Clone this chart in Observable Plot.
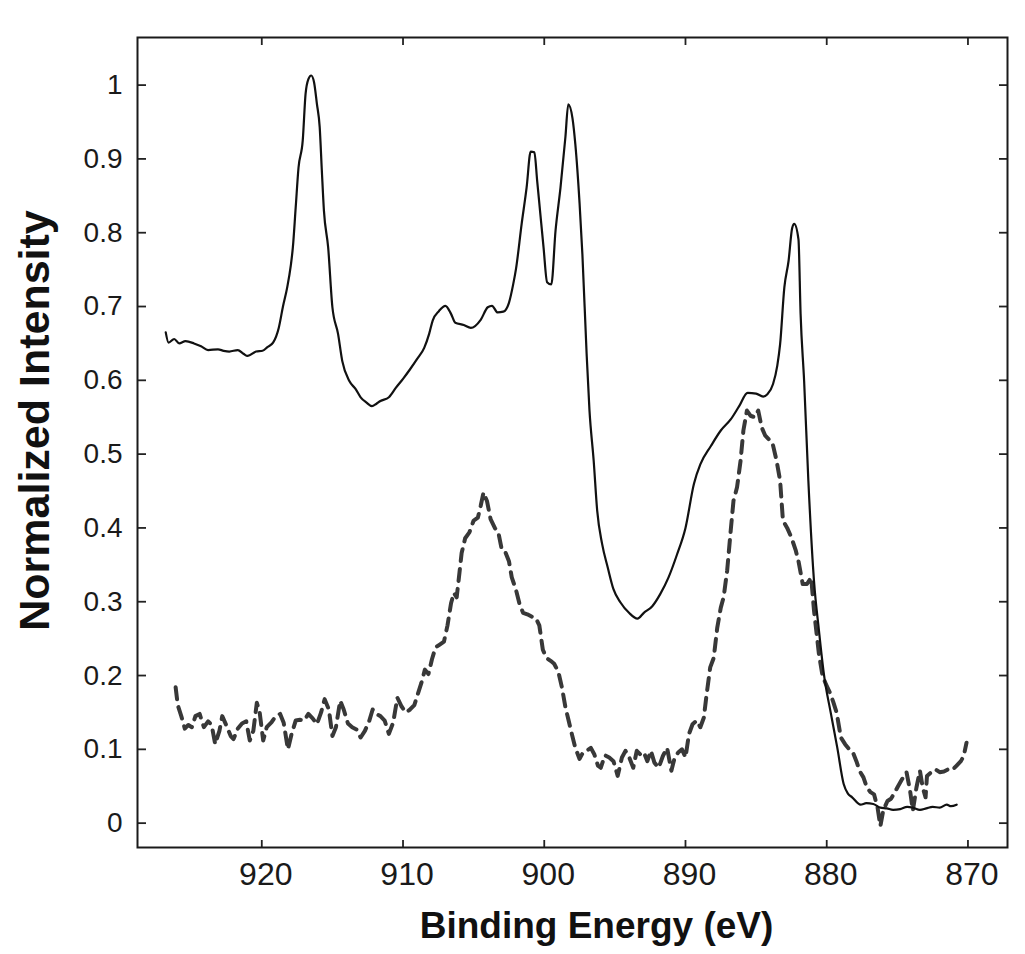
<!DOCTYPE html>
<html>
<head>
<meta charset="utf-8">
<script src="https://cdn.jsdelivr.net/npm/d3@7"></script>
<script src="https://cdn.jsdelivr.net/npm/@observablehq/plot@0.6"></script>
<style>
  html, body { margin: 0; padding: 0; background: #fff; }
  #chart { width: 1025px; height: 954px; }
</style>
</head>
<body>
<div id="chart"></div>
<script>
// Spectrum 1 (solid): binding energy (eV) and normalized intensity
const solidEnergy = [
  926.8, 926.6, 926.2, 925.85, 925.4, 924.8, 924.3, 923.8, 923.1, 922.7,
  922.3, 921.7, 921.3, 921.0, 920.4, 919.95, 919.6, 919.2, 918.8, 918.5,
  918.2, 917.95, 917.8, 917.6, 917.4, 917.1, 916.9, 916.7, 916.5, 916.3,
  916.1, 915.9, 915.75, 915.6, 915.3, 915.0, 914.6, 914.3, 913.8, 913.35,
  913.0, 912.6, 912.2, 911.9, 911.6, 911.0, 910.5, 910.0, 909.5, 909.0,
  908.5, 908.15, 907.9, 907.45, 907.0, 906.6, 906.3, 905.7, 905.2, 904.5,
  904.0, 903.7, 903.3, 902.9, 902.5, 902.2, 902.0, 901.6, 901.25, 900.96,
  900.7, 900.5, 900.3, 900.05, 899.8, 899.5, 899.2, 898.85, 898.5, 898.3,
  898.0, 897.8, 897.5, 897.3, 897.0, 896.8, 896.5, 896.25, 895.9, 895.5,
  895.1, 894.6, 894.0, 893.4, 892.95, 892.35, 891.8, 891.2, 890.6, 890.0,
  889.4, 888.95, 888.2, 887.5, 886.8, 886.2, 885.6, 885.0, 884.5, 884.2,
  883.8, 883.5, 883.3, 883.0, 882.7, 882.45, 882.3, 882.0, 881.85, 881.6,
  881.3, 880.9, 880.55, 880.2, 879.7, 879.25, 878.8, 878.5, 878.2, 877.6,
  877.2, 876.7, 876.2, 875.75, 875.3, 874.8, 874.3, 873.9, 873.4, 872.95,
  872.5, 872.0, 871.5, 871.2, 870.8
];
const solidIntensity = [
  0.665, 0.651, 0.656, 0.650, 0.653, 0.650, 0.646, 0.641, 0.642, 0.640,
  0.639, 0.641, 0.636, 0.633, 0.639, 0.640, 0.645, 0.651, 0.671, 0.700,
  0.726, 0.755, 0.780, 0.834, 0.888, 0.925, 0.988, 1.008, 1.013, 1.004,
  0.975, 0.943, 0.885, 0.830, 0.780, 0.699, 0.663, 0.626, 0.599, 0.588,
  0.577, 0.570, 0.565, 0.568, 0.572, 0.577, 0.590, 0.602, 0.615, 0.629,
  0.644, 0.663, 0.681, 0.694, 0.701, 0.690, 0.678, 0.675, 0.671, 0.682,
  0.699, 0.701, 0.692, 0.693, 0.705, 0.730, 0.751, 0.812, 0.861, 0.910,
  0.909, 0.870, 0.830, 0.780, 0.733, 0.730, 0.803, 0.861, 0.930, 0.974,
  0.955, 0.920, 0.840, 0.771, 0.636, 0.560, 0.491, 0.423, 0.378, 0.346,
  0.317, 0.299, 0.285, 0.277, 0.285, 0.294, 0.310, 0.333, 0.364, 0.400,
  0.460, 0.486, 0.511, 0.532, 0.547, 0.565, 0.583, 0.582, 0.578, 0.581,
  0.595, 0.620, 0.649, 0.726, 0.762, 0.806, 0.812, 0.791, 0.690, 0.599,
  0.464, 0.328, 0.261, 0.202, 0.148, 0.102, 0.053, 0.040, 0.035, 0.025,
  0.027, 0.026, 0.021, 0.020, 0.018, 0.019, 0.022, 0.021, 0.018, 0.020,
  0.022, 0.021, 0.025, 0.023, 0.025
];

// Spectrum 2 (dashed): binding energy (eV) and normalized intensity
const dashedEnergy = [
  926.1, 925.95, 925.7, 925.45, 925.2, 924.95, 924.7, 924.4, 924.1, 923.8,
  923.55, 923.3, 923.0, 922.8, 922.5, 922.2, 922.0, 921.7, 921.4, 921.1,
  920.85, 920.6, 920.35, 920.15, 919.9, 919.65, 919.3, 919.0, 918.7, 918.45,
  918.15, 917.9, 917.6, 917.3, 917.0, 916.7, 916.4, 916.1, 915.8, 915.55,
  915.25, 915.0, 914.75, 914.45, 914.2, 913.9, 913.6, 913.3, 913.0, 912.7,
  912.4, 912.15, 911.9, 911.6, 911.3, 911.0, 910.7, 910.4, 910.1, 909.8,
  909.5, 909.2, 908.95, 908.7, 908.45, 908.2, 907.95, 907.7, 907.4, 907.1,
  906.85, 906.6, 906.4, 906.2, 906.0, 905.85, 905.6, 905.3, 905.0, 904.7,
  904.5, 904.3, 904.05, 903.8, 903.5, 903.25, 903.0, 902.75, 902.5, 902.3,
  902.0, 901.75, 901.5, 901.2, 900.9, 900.6, 900.35, 900.1, 899.85, 899.55,
  899.3, 899.0, 898.75, 898.5, 898.3, 898.05, 897.8, 897.5, 897.25, 897.0,
  896.7, 896.45, 896.2, 896.0, 895.7, 895.4, 895.1, 894.8, 894.5, 894.25,
  894.0, 893.7, 893.45, 893.2, 892.95, 892.7, 892.45, 892.2, 891.9, 891.6,
  891.3, 891.0, 890.75, 890.5, 890.25, 890.0, 889.75, 889.5, 889.2, 888.95,
  888.7, 888.5, 888.25, 888.0, 887.75, 887.5, 887.3, 887.05, 886.8, 886.6,
  886.35, 886.1, 885.9, 885.65, 885.4, 885.1, 884.85, 884.6, 884.35, 884.1,
  883.85, 883.55, 883.3, 883.1, 882.8, 882.5, 882.2, 882.0, 881.7, 881.4,
  881.1, 880.9, 880.55, 880.3, 880.05, 879.8, 879.55, 879.3, 879.0, 878.7,
  878.4, 878.15, 877.9, 877.65, 877.4, 877.15, 876.9, 876.65, 876.4, 876.2,
  876.0, 875.7, 875.45, 875.2, 874.95, 874.65, 874.35, 874.1, 873.9, 873.65,
  873.4, 873.2, 873.0, 872.9, 872.6, 872.3, 872.0, 871.7, 871.4, 871.1,
  870.8, 870.5, 870.3, 870.1
];
const dashedIntensity = [
  0.184, 0.160, 0.145, 0.128, 0.133, 0.130, 0.145, 0.148, 0.130, 0.138,
  0.133, 0.107, 0.125, 0.145, 0.132, 0.118, 0.114, 0.128, 0.135, 0.138,
  0.112, 0.125, 0.163, 0.150, 0.112, 0.130, 0.137, 0.145, 0.148, 0.136,
  0.100, 0.120, 0.139, 0.140, 0.139, 0.148, 0.142, 0.134, 0.150, 0.168,
  0.154, 0.118, 0.130, 0.166, 0.154, 0.135, 0.130, 0.127, 0.116, 0.125,
  0.138, 0.154, 0.148, 0.145, 0.139, 0.121, 0.136, 0.170, 0.158, 0.150,
  0.154, 0.160, 0.175, 0.190, 0.208, 0.202, 0.222, 0.238, 0.242, 0.246,
  0.268, 0.298, 0.312, 0.306, 0.340, 0.366, 0.386, 0.394, 0.410, 0.414,
  0.430, 0.448, 0.436, 0.412, 0.400, 0.394, 0.370, 0.367, 0.355, 0.333,
  0.316, 0.297, 0.285, 0.283, 0.280, 0.278, 0.268, 0.235, 0.224, 0.220,
  0.216, 0.205, 0.184, 0.157, 0.141, 0.121, 0.102, 0.087, 0.096, 0.098,
  0.102, 0.093, 0.078, 0.075, 0.092, 0.089, 0.084, 0.064, 0.089, 0.098,
  0.090, 0.075, 0.098, 0.093, 0.096, 0.084, 0.098, 0.082, 0.075, 0.091,
  0.102, 0.071, 0.090, 0.096, 0.100, 0.089, 0.121, 0.134, 0.139, 0.130,
  0.143, 0.175, 0.211, 0.224, 0.265, 0.292, 0.306, 0.342, 0.396, 0.437,
  0.455, 0.491, 0.532, 0.559, 0.552, 0.550, 0.559, 0.536, 0.525, 0.520,
  0.516, 0.491, 0.464, 0.410, 0.400, 0.387, 0.370, 0.355, 0.324, 0.324,
  0.333, 0.288, 0.229, 0.200, 0.188, 0.178, 0.165, 0.150, 0.116, 0.107,
  0.100, 0.096, 0.084, 0.070, 0.062, 0.048, 0.042, 0.039, 0.021, -0.004,
  0.017, 0.030, 0.033, 0.041, 0.050, 0.060, 0.069, 0.044, 0.017, 0.048,
  0.071, 0.048, 0.035, 0.064, 0.069, 0.073, 0.069, 0.070, 0.073, 0.072,
  0.078, 0.084, 0.091, 0.109
];

// Axis ticks and titles
const xTicks = [920, 910, 900, 890, 880, 870];
const yTicks = [0, 0.1, 0.2, 0.3, 0.4, 0.5, 0.6, 0.7, 0.8, 0.9, 1];
const yTickLabels = ["0", "0.1", "0.2", "0.3", "0.4", "0.5", "0.6", "0.7", "0.8", "0.9", "1"];
const xTitle = "Binding Energy (eV)";
const yTitle = "Normalized Intensity";

const solid = solidEnergy.map((e, i) => ({energy: e, intensity: solidIntensity[i]}));
const dashed = dashedEnergy.map((e, i) => ({energy: e, intensity: dashedIntensity[i]}));

// tick marks only (no labels), pointing into the plot box
const tickOnly = {tickSize: 8, fill: "none", label: null, stroke: "#222", strokeWidth: 1.8};

const chart = Plot.plot({
  width: 1025,
  height: 954,
  marginLeft: 137,
  marginRight: 18,
  marginTop: 37,
  marginBottom: 107,
  style: {
    fontFamily: "'Liberation Sans', Arial, Helvetica, sans-serif",
    background: "#fff",
    color: "#1a1a1a"
  },
  x: {domain: [928.8, 867.2], axis: null},
  y: {domain: [-0.033, 1.0645], axis: null},
  marks: [
    Plot.line(dashed, {
      x: "energy", y: "intensity",
      stroke: "#383838", strokeWidth: 4,
      strokeDasharray: "12,8", strokeLinejoin: "round"
    }),
    Plot.line(solid, {
      x: "energy", y: "intensity", curve: "monotone-x",
      stroke: "#111", strokeWidth: 2.2, strokeLinejoin: "round"
    }),
    Plot.axisX(xTicks, {...tickOnly, anchor: "top", frameAnchor: "bottom"}),
    Plot.axisX(xTicks, {...tickOnly, anchor: "bottom", frameAnchor: "top"}),
    Plot.axisY(yTicks, {...tickOnly, anchor: "right", frameAnchor: "left"}),
    Plot.axisY(yTicks, {...tickOnly, anchor: "left", frameAnchor: "right"}),
    // tick labels
    Plot.axisX(xTicks, {anchor: "bottom", tickSize: 0, tickPadding: 15, fontSize: 32, dx: 4, label: null, fill: "#1a1a1a", tickFormat: d => String(d)}),
    Plot.axisY(yTicks, {anchor: "left", tickSize: 0, tickPadding: 15, fontSize: 28, label: null, fill: "#1a1a1a", tickFormat: (d, i) => yTickLabels[i]}),
    Plot.frame({stroke: "#1a1a1a", strokeWidth: 2}),
    Plot.text([xTitle], {
      text: d => d, frameAnchor: "bottom", dy: 79, dx: 24,
      textAnchor: "middle", lineAnchor: "middle", fontSize: 37, fontWeight: "bold", fill: "#111"
    }),
    Plot.text([yTitle], {
      text: d => d, frameAnchor: "left", dx: -102, dy: -22, rotate: -90,
      textAnchor: "middle", lineAnchor: "middle", fontSize: 43, fontWeight: "bold", fill: "#111"
    })
  ]
});

document.getElementById("chart").appendChild(chart);
</script>
</body>
</html>
